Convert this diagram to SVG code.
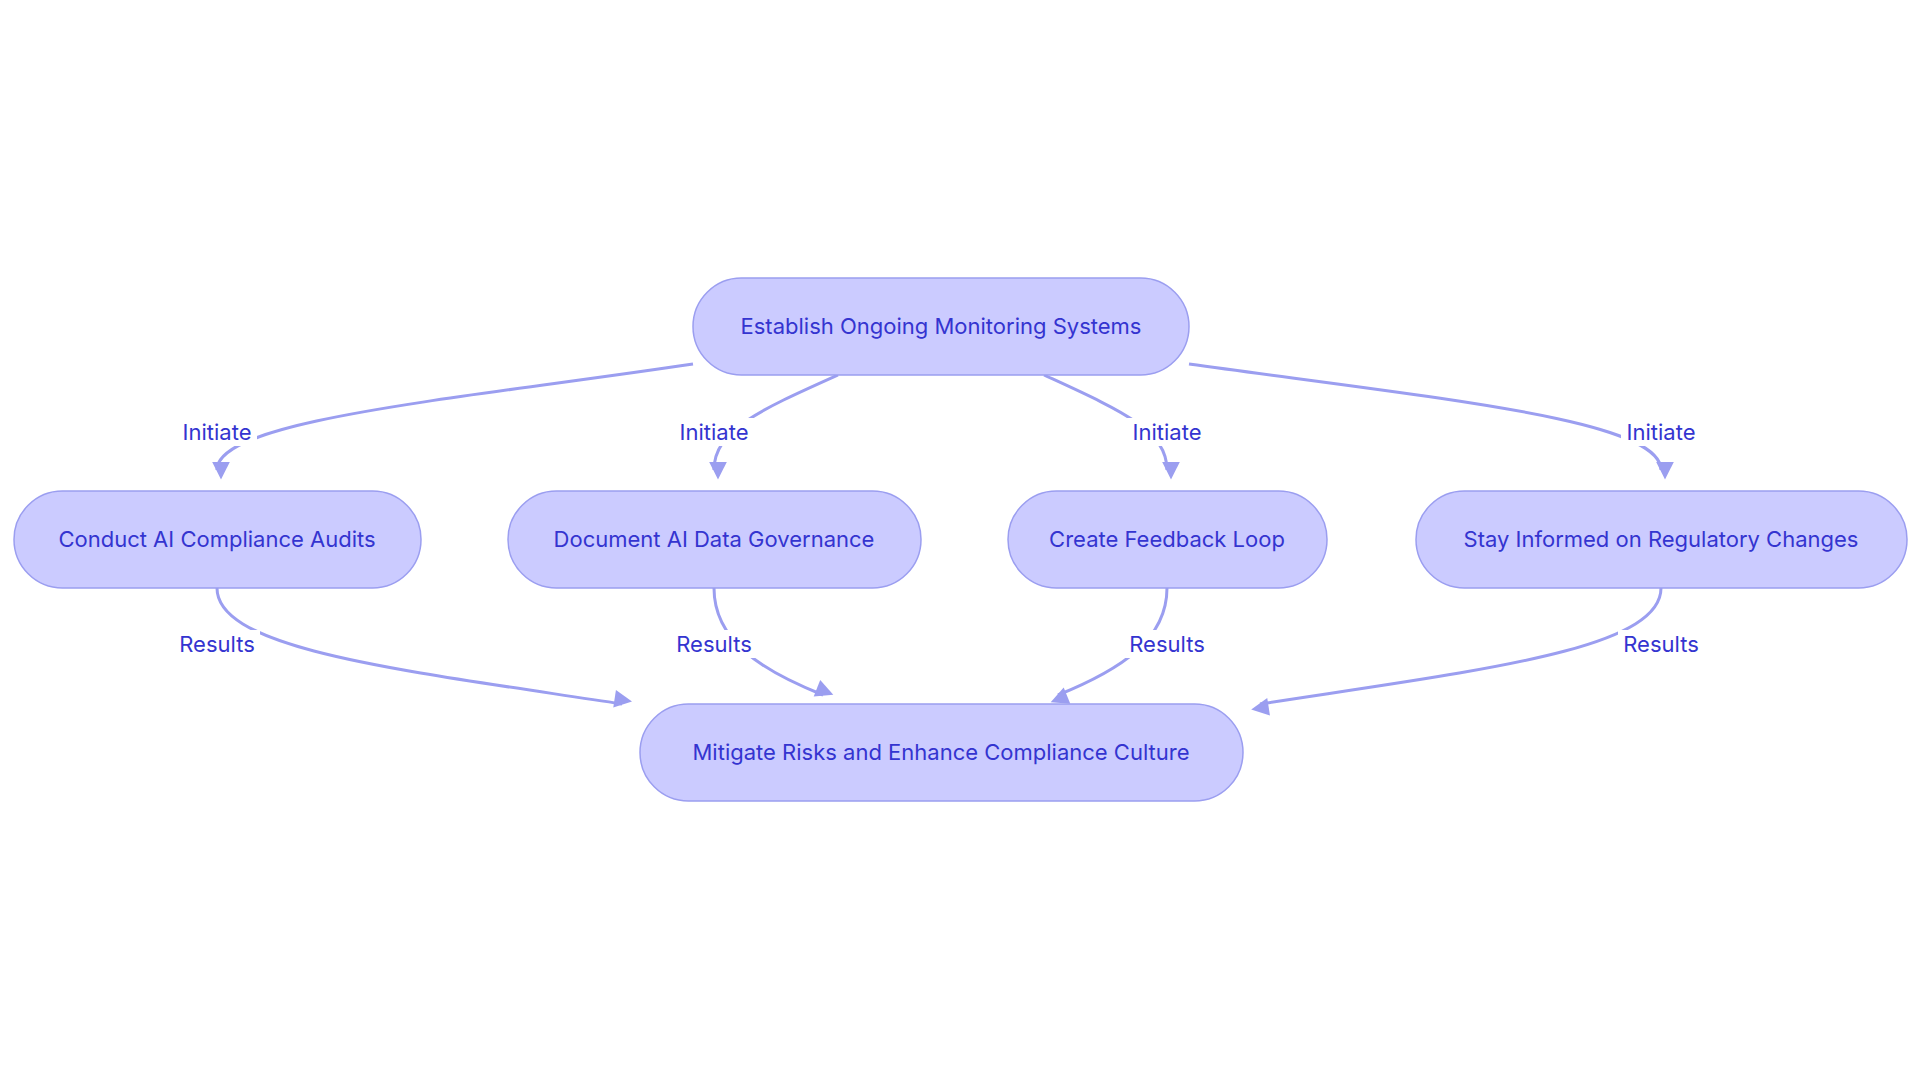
<svg xmlns="http://www.w3.org/2000/svg" width="1920" height="1083" viewBox="0 0 1920 1083">
<style>
.n{fill:#cbcbff;stroke:#9b9ef0;stroke-width:1.5}
.t{font-family:Inter,"Liberation Sans",sans-serif;font-size:22px;fill:#3434d0;text-anchor:middle;dominant-baseline:central}
.e{fill:none;stroke:#9b9ef0;stroke-width:3}
.lb{fill:#ffffff}
</style>
<defs><marker id="a" viewBox="0 0 10 10" refX="9" refY="5" markerWidth="8" markerHeight="8" markerUnits="userSpaceOnUse" orient="auto" style="overflow:visible"><path d="M0,0 L10,5 L0,10 z" fill="#9b9ef0" transform="scale(2.2) translate(-5.5,-5) translate(5,0)"/></marker></defs>
<rect width="1920" height="1083" fill="#fff"/>
<g id="edges">
<path class="e" d="M693,364 C450,400 217,420 217,470" marker-end="url(#a)"/>
<path class="e" d="M838,375 C760,410 714,430 714,470" marker-end="url(#a)"/>
<path class="e" d="M1044,375 C1120,410 1167,430 1167,470" marker-end="url(#a)"/>
<path class="e" d="M1189,364 C1450,400 1661,420 1661,470" marker-end="url(#a)"/>
<path class="e" d="M217,588 C217,650 400,670 622,704" marker-end="url(#a)"/>
<path class="e" d="M714,588 C714,640 760,670 823,695" marker-end="url(#a)"/>
<path class="e" d="M1167,588 C1167,640 1120,670 1058,695" marker-end="url(#a)"/>
<path class="e" d="M1661,588 C1661,650 1480,670 1260,704" marker-end="url(#a)"/>
<g id="labels">
<rect class="lb" x="177" y="418" width="80" height="28"/><text class="t" x="217" y="432">Initiate</text>
<rect class="lb" x="674" y="418" width="80" height="28"/><text class="t" x="714" y="432">Initiate</text>
<rect class="lb" x="1127" y="418" width="80" height="28"/><text class="t" x="1167" y="432">Initiate</text>
<rect class="lb" x="1621" y="418" width="80" height="28"/><text class="t" x="1661" y="432">Initiate</text>
<rect class="lb" x="174" y="630" width="86" height="28"/><text class="t" x="217" y="644">Results</text>
<rect class="lb" x="671" y="630" width="86" height="28"/><text class="t" x="714" y="644">Results</text>
<rect class="lb" x="1124" y="630" width="86" height="28"/><text class="t" x="1167" y="644">Results</text>
<rect class="lb" x="1618" y="630" width="86" height="28"/><text class="t" x="1661" y="644">Results</text>
</g>
</g>
<g id="n0"><rect class="n" x="693" y="278" width="496" height="97" rx="48.5"/><text class="t" x="941" y="326">Establish Ongoing Monitoring Systems</text></g>
<g id="n1"><rect class="n" x="14" y="491" width="407" height="97" rx="48.5"/><text class="t" x="217" y="539">Conduct AI Compliance Audits</text></g>
<g id="n2"><rect class="n" x="508" y="491" width="413" height="97" rx="48.5"/><text class="t" x="714" y="539">Document AI Data Governance</text></g>
<g id="n3"><rect class="n" x="1008" y="491" width="319" height="97" rx="48.5"/><text class="t" x="1167" y="539">Create Feedback Loop</text></g>
<g id="n4"><rect class="n" x="1416" y="491" width="491" height="97" rx="48.5"/><text class="t" x="1661" y="539">Stay Informed on Regulatory Changes</text></g>
<g id="n5"><rect class="n" x="640" y="704" width="603" height="97" rx="48.5"/><text class="t" x="941" y="752">Mitigate Risks and Enhance Compliance Culture</text></g>
</svg>
